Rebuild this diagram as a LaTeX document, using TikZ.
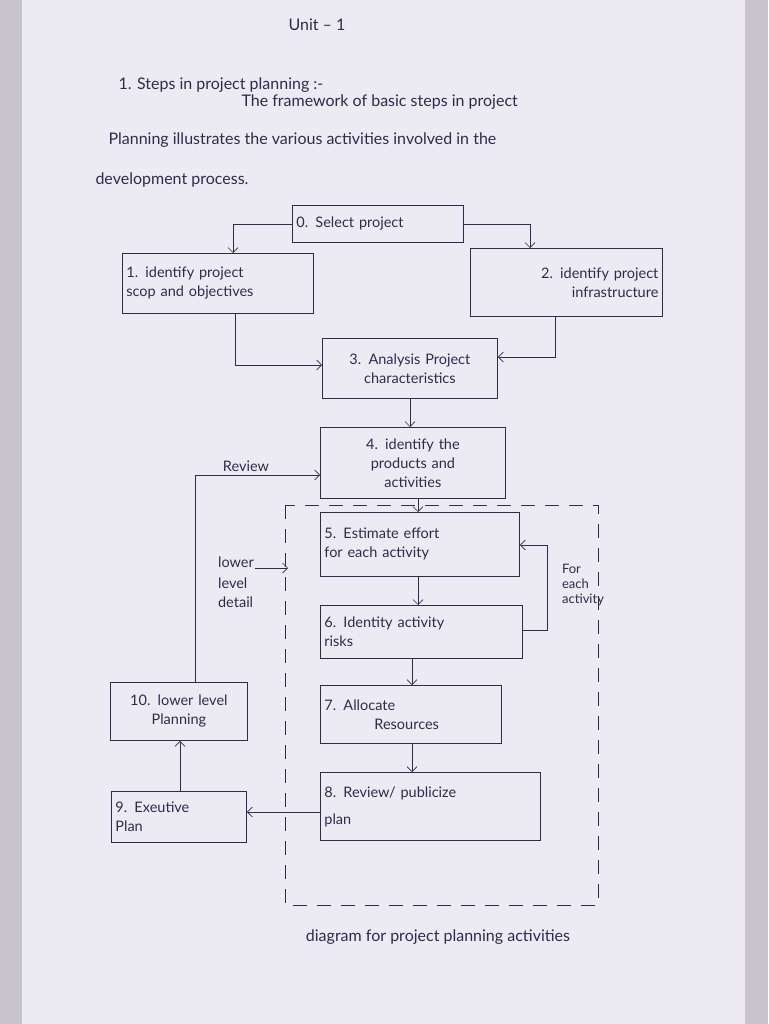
\documentclass[tikz,border=0pt]{standalone}
\usepackage{fontspec}
\setmainfont{Lato}
\usetikzlibrary{arrows.meta}
\definecolor{ink}{HTML}{2E2C4A}
\definecolor{paper}{HTML}{ECEAF2}
\definecolor{edge}{HTML}{C9C3CC}
\begin{document}
\begin{tikzpicture}[x=1pt,y=-1pt,
  bx/.style={draw=ink,fill=paper,line width=0.8pt,align=left,font=\fontsize{14.5}{19}\selectfont,text=ink,inner sep=0pt,anchor=north west},
  ar/.style={draw=ink,line width=0.7pt,-{Straight Barb[length=5pt]}},
  tx/.style={text=ink,font=\fontsize{16}{20}\selectfont,anchor=west},
  lb/.style={text=ink,font=\fontsize{14.5}{19}\selectfont,align=left}]
\useasboundingbox (0,0) rectangle (768,1024);
\fill[edge] (0,0) rectangle (768,1024);
\fill[paper] (22,0) rectangle (745,1024);
% text
\node[tx] (u) at (285,25) {Unit -- 1};
\node[tx] (h) at (115,85) {1. Steps in project planning :-};
\node[tx] (p1) at (238,102) {The framework of basic steps in project};
\node[tx] (p2) at (105,140) {Planning illustrates the various activities involved in the};
\node[tx] (p3) at (92,180) {development process.};
% dashed frame
\draw[ink,dashed,line width=0.7pt,dash pattern=on 14pt off 10pt] (285,505) rectangle (598,905);
% boxes
\node[bx,minimum width=171,minimum height=37,text width=163,inner xsep=4] (b0) at (292,205) {0. Select project};
\node[bx,minimum width=191,minimum height=60,text width=183,inner xsep=4] (b1) at (122,253) {1. identify project\\scop and objectives};
\node[bx,minimum width=192,minimum height=68,text width=184,inner xsep=4,align=right] (b2) at (470,248) {2. identify project\\infrastructure};
\node[bx,minimum width=175,minimum height=60,text width=167,inner xsep=4,align=center] (b3) at (322,338) {3. Analysis Project\\characteristics};
\node[bx,minimum width=185,minimum height=71,text width=177,inner xsep=4,align=center] (b4) at (320,427) {4. identify the\\products and\\activities};
\node[bx,minimum width=199,minimum height=64,text width=191,inner xsep=4] (b5) at (320,512) {5. Estimate effort\\for each activity};
\node[bx,minimum width=202,minimum height=53,text width=194,inner xsep=4] (b6) at (320,605) {6. Identity activity\\risks};
\node[bx,minimum width=181,minimum height=58,text width=173,inner xsep=4] (b7) at (320,685) {7. Allocate\\\hspace*{50pt}Resources};
\node[bx,minimum width=220,minimum height=68,text width=212,inner xsep=4] (b8) at (320,772) {8. Review/ publicize\\[8pt]plan};
\node[bx,minimum width=135,minimum height=51,text width=127,inner xsep=4] (b9) at (111,791) {9. Exeutive\\Plan};
\node[bx,minimum width=137,minimum height=58,text width=129,inner xsep=4,align=center] (b10) at (110,682) {10. lower level\\Planning};
% connectors
\draw[ar] (b0.west) -| (b1.north -| 233,0);
\draw[ar] (b0.east) -| (b2.north -| 530,0);
\draw[ar] (b1.south -| 235,0) |- (b3.west |- 0,365);
\draw[ar] (b2.south -| 555,0) |- (b3.east |- 0,357);
\draw[ar] (b3.south -| 410,0) -- (b4.north -| 410,0);
\draw[ar] (b4.south -| 418,0) -- (b5.north -| 418,0);
\draw[ar] (b5.south -| 418,0) -- (b6.north -| 418,0);
\draw[ar] (b6.south -| 412,0) -- (b7.north -| 412,0);
\draw[ar] (b7.south -| 412,0) -- (b8.north -| 412,0);
\draw[ar] (b8.west |- 0,812) -- (b9.east |- 0,812);
\draw[ar] (b9.north -| 180,0) -- (b10.south -| 180,0);
\draw[ar] (b10.north -| 195,0) |- (b4.west |- 0,475);
\draw[ar] (b6.east |- 0,630) -- (547,630) |- (b5.east |- 0,545);
\coordinate (la) at (255,568);
\coordinate (lb2) at (288,568);
\draw[ar] (la) -- (lb2);
\node[lb] (rv) at (246,466) {Review};
\node[lb,align=left] (ld) at (236,582) {lower\\[2pt]level\\detail};
\node[lb,align=left,font=\fontsize{13}{15}\selectfont] (fe) at (583,585) {For\\each\\activity};
\node[text=ink,font=\fontsize{16}{20}\selectfont] (cap) at (438,937) {diagram for project planning activities};
\end{tikzpicture}
\end{document}
